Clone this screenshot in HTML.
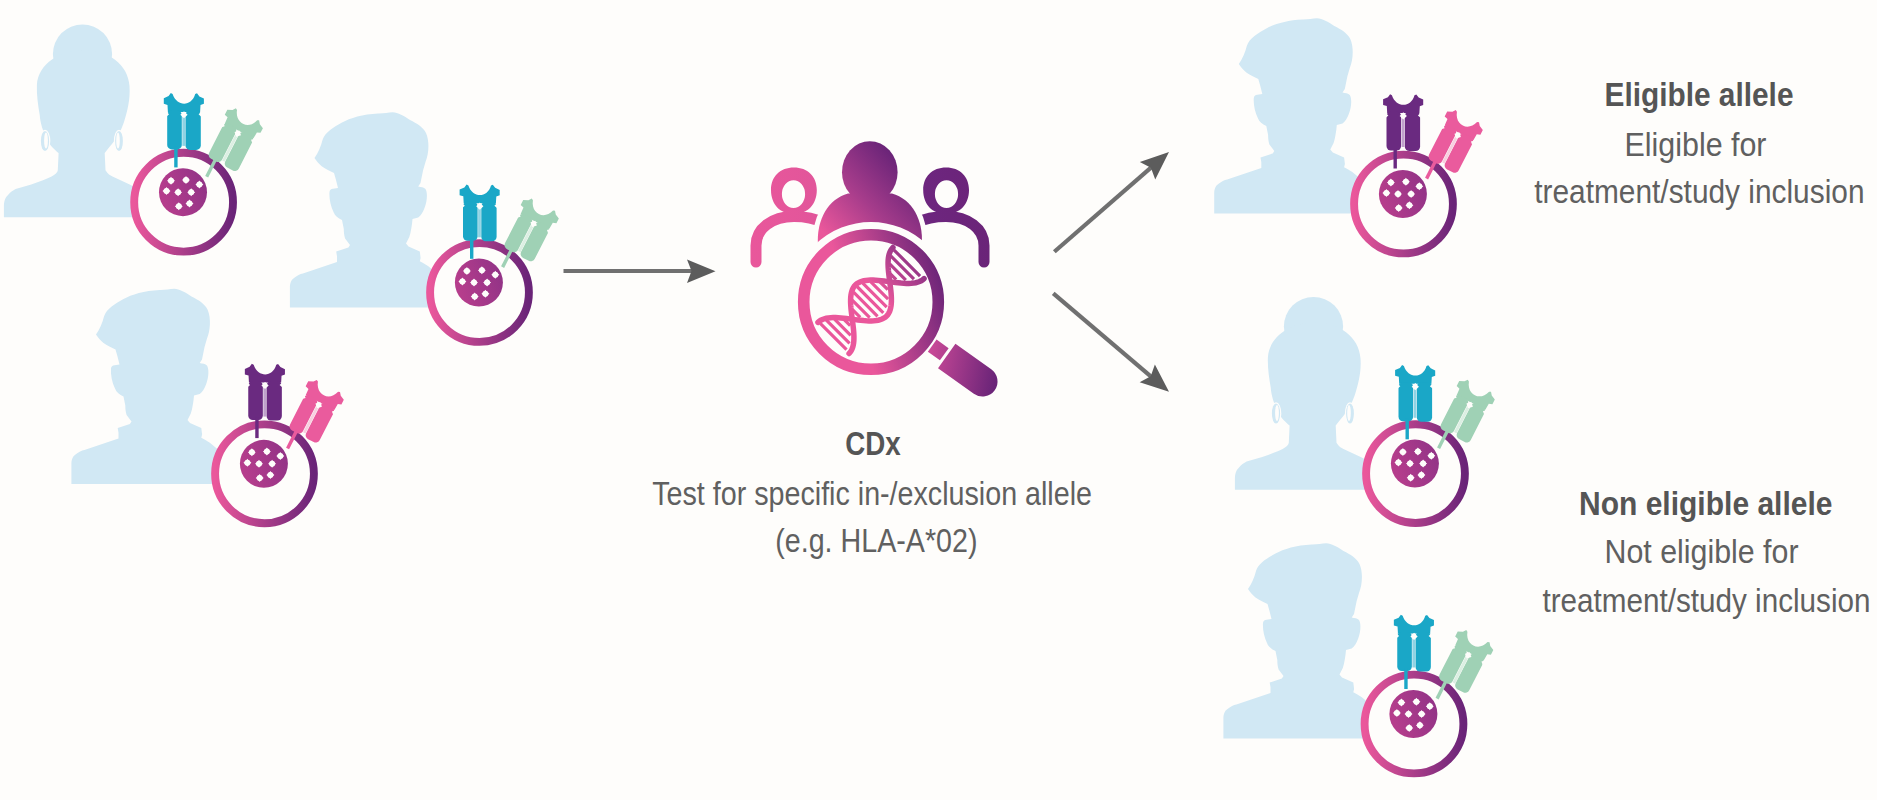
<!DOCTYPE html>
<html><head><meta charset="utf-8"><style>
html,body{margin:0;padding:0;background:#fefdfb;}
svg{display:block;}
</style></head><body>
<svg width="1877" height="800" viewBox="0 0 1877 800">
<defs>
<linearGradient id="ringg" x1="0" y1="0" x2="1" y2="0"><stop offset="0" stop-color="#ea579b"/><stop offset="1" stop-color="#6a2478"/></linearGradient>
<linearGradient id="nucg" x1="0" y1="0.3" x2="1" y2="0"><stop offset="0" stop-color="#b53d8c"/><stop offset="1" stop-color="#8e3286"/></linearGradient>
<linearGradient id="sgL" gradientUnits="userSpaceOnUse" x1="750" y1="0" x2="830" y2="0"><stop offset="0" stop-color="#e9579b"/><stop offset="1" stop-color="#e0559a"/></linearGradient>
<linearGradient id="sgR" gradientUnits="userSpaceOnUse" x1="750" y1="0" x2="830" y2="0"><stop offset="0" stop-color="#6a2478"/><stop offset="1" stop-color="#6e2680"/></linearGradient>
<linearGradient id="bodyg" gradientUnits="userSpaceOnUse" x1="828" y1="238" x2="905" y2="168"><stop offset="0" stop-color="#ea579b"/><stop offset="0.5" stop-color="#a63c8b"/><stop offset="1" stop-color="#6a2478"/></linearGradient>
<linearGradient id="headg" gradientUnits="userSpaceOnUse" x1="842" y1="185" x2="897" y2="160"><stop offset="0" stop-color="#a0398b"/><stop offset="1" stop-color="#6a2478"/></linearGradient>
<linearGradient id="magg" gradientUnits="userSpaceOnUse" x1="820" y1="310" x2="940" y2="270"><stop offset="0.25" stop-color="#ea579b"/><stop offset="1" stop-color="#6a2478"/></linearGradient>
<linearGradient id="handg" gradientUnits="userSpaceOnUse" x1="80" y1="18" x2="145" y2="-12"><stop offset="0" stop-color="#cc4a98"/><stop offset="1" stop-color="#6a2478"/></linearGradient>
<linearGradient id="dnag" gradientUnits="userSpaceOnUse" x1="860" y1="310" x2="925" y2="255"><stop offset="0.3" stop-color="#ea579b"/><stop offset="1" stop-color="#7a2a80"/></linearGradient>
</defs>
<rect width="1877" height="800" fill="#fefdfb"/>
<g transform="translate(0,0)" fill="#d1e8f4">
<circle cx="82.5" cy="54" r="29.6"/>
<path d="M83,50 C108,50 128,64 129.5,86 C130.5,100 127,112 124,122 C121,131 116,140 109.4,146.9 L104.7,153.1 L105.5,170.3 C108,174 110,175.5 112.5,176.6 L129.7,184.4 L150,195 L150,217.2 L3.9,217.2 L3.9,206.25 C4,200 6,197 7.8,195.3 C10,192 13,190.5 15.6,189 L31.25,184.4 C40,181.5 47,179 51.6,176.6 C55,174.5 57.8,172.5 57.8,170.3 L58.6,153.1 C55,150 50,146 46.9,139 C43,132 40,122 39.8,115.6 C38,105 36.5,95 36.9,85 C38,64 60,50 83,50 Z"/>
<ellipse cx="45" cy="141" rx="5.3" ry="11.2" fill="#fefdfb"/>
<ellipse cx="45" cy="141" rx="4.1" ry="10.1" fill="#d1e8f4"/>
<ellipse cx="46" cy="140.5" rx="1.9" ry="8" fill="#fefdfb"/>
<ellipse cx="119" cy="141" rx="5.1" ry="11.2" fill="#fefdfb"/>
<ellipse cx="119" cy="141" rx="3.9" ry="10.1" fill="#d1e8f4"/>
<ellipse cx="118" cy="140.5" rx="1.8" ry="8" fill="#fefdfb"/>
</g>
<circle cx="183.6" cy="202.2" r="50" fill="#fefdfb"/>
<circle cx="183.6" cy="202.2" r="49.4" fill="none" stroke="url(#ringg)" stroke-width="7.9"/>
<circle cx="183" cy="192.2" r="24" fill="url(#nucg)"/>
<g fill="#fefdfb"><circle cx="171" cy="180.7" r="3.0"/><path d="M171,176.7 Q172.3,179.4 175,180.7 Q172.3,182 171,184.7 Q169.7,182 167,180.7 Q169.7,179.4 171,176.7 Z"/><circle cx="186" cy="180" r="3.0"/><path d="M186,176 Q187.3,178.7 190,180 Q187.3,181.3 186,184 Q184.7,181.3 182,180 Q184.7,178.7 186,176 Z"/><circle cx="199.4" cy="184.4" r="3.0"/><path d="M199.4,180.4 Q200.7,183.1 203.4,184.4 Q200.7,185.7 199.4,188.4 Q198.1,185.7 195.4,184.4 Q198.1,183.1 199.4,180.4 Z"/><circle cx="166.5" cy="191.1" r="3.0"/><path d="M166.5,187.1 Q167.8,189.8 170.5,191.1 Q167.8,192.4 166.5,195.1 Q165.2,192.4 162.5,191.1 Q165.2,189.8 166.5,187.1 Z"/><circle cx="178.1" cy="192.2" r="3.0"/><path d="M178.1,188.2 Q179.4,190.9 182.1,192.2 Q179.4,193.5 178.1,196.2 Q176.8,193.5 174.1,192.2 Q176.8,190.9 178.1,188.2 Z"/><circle cx="191.2" cy="192.2" r="3.0"/><path d="M191.2,188.2 Q192.5,190.9 195.2,192.2 Q192.5,193.5 191.2,196.2 Q189.9,193.5 187.2,192.2 Q189.9,190.9 191.2,188.2 Z"/><circle cx="189.5" cy="203.5" r="3.0"/><path d="M189.5,199.5 Q190.8,202.2 193.5,203.5 Q190.8,204.8 189.5,207.5 Q188.2,204.8 185.5,203.5 Q188.2,202.2 189.5,199.5 Z"/><circle cx="178.8" cy="206.3" r="3.0"/><path d="M178.8,202.3 Q180.1,205 182.8,206.3 Q180.1,207.6 178.8,210.3 Q177.5,207.6 174.8,206.3 Q177.5,205 178.8,202.3 Z"/></g>
<g transform="translate(184.2,92.9)"><g>
<path fill="#1aa7c7" d="M-20.4,5.3 L-15.6,3.2 L-13.4,0.2 L-11.6,1.2 C-7.5,14 7.5,14 11,1.2 L12.8,0.4 L15.2,3.5 L19.7,5.6 L19.7,10.9 L16.3,12.2 L15.9,19 L-16.3,19 L-16.7,12 L-20.4,10.9 Z"/>
<rect fill="#1aa7c7" x="-17" y="17.5" width="14.6" height="39" rx="4.5"/>
<rect fill="#1aa7c7" x="1.3" y="17.5" width="15.3" height="39.5" rx="4.5"/>
<rect fill="#8fd3e4" x="-1.9" y="24" width="2.8" height="29"/>
<path fill="#fefdfb" d="M-0.2,18.3 L3.4,21.9 L-0.2,25.4 L-3.8,21.9 Z"/>
<path fill="#fefdfb" d="M-18,18.6 L-15.2,21.4 L-18,24 Z"/>
<path fill="#fefdfb" d="M17.3,18.6 L14.4,21.4 L17.3,24 Z"/>
<rect fill="#1aa7c7" x="-10" y="54" width="3.4" height="20.5"/>
</g></g>
<g transform="translate(247.9,114.2) rotate(27)"><g>
<path fill="#9fd1b5" d="M-20.4,5.3 L-15.6,3.2 L-13.4,0.2 L-11.6,1.2 C-7.5,14 7.5,14 11,1.2 L12.8,0.4 L15.2,3.5 L19.7,5.6 L19.7,10.9 L16.3,12.2 L15.9,19 L-16.3,19 L-16.7,12 L-20.4,10.9 Z"/>
<rect fill="#9fd1b5" x="-17" y="17.5" width="14.6" height="39" rx="4.5"/>
<rect fill="#9fd1b5" x="1.3" y="17.5" width="15.3" height="39.5" rx="4.5"/>
<rect fill="#dcefe3" x="-1.9" y="24" width="2.8" height="29"/>
<path fill="#fefdfb" d="M-0.2,18.3 L3.4,21.9 L-0.2,25.4 L-3.8,21.9 Z"/>
<path fill="#fefdfb" d="M-18,18.6 L-15.2,21.4 L-18,24 Z"/>
<path fill="#fefdfb" d="M17.3,18.6 L14.4,21.4 L17.3,24 Z"/>
<rect fill="#9fd1b5" x="-10" y="54" width="3.4" height="20.5"/>
</g></g>
<path fill="#d1e8f4" transform="translate(0,0)" d="M314.5,158 C318,153 321,146 322.5,140 C325,132 334,127 342,122.5 C350,118 363,114 378,113.4 C384,113.5 388,112.5 392.7,112.3 C398,112.5 404,116 410,120 C417,123.5 423,127 426,133 C430,142 428.5,155 425.5,162 L423.1,170.2 L420.5,183 L418.2,186.5 C421,187 424,187.5 425.5,188.9 C427.5,192 427.5,200 424.7,207.6 C423,212 421,216 418.2,217.4 L412.5,219 C412,225 411,232 409.3,236.9 L406,243.4 L408.5,246.6 L419.8,251.5 L420.6,258 L419.8,261.2 C423,263 426,264.5 428,266 L445,280 L445,307.5 L289.9,307.5 L289.9,287.2 C290,282 292,279 294.7,277.5 C297,275.5 300,274 302.9,273.4 L337,262 L337,256.3 L336.2,251.5 L348.4,247.4 L350,245 L345.1,238.5 C344,235 343.8,232 343.8,229 L342,220 C338,218 335,216 333.5,212 C330.5,206 329,198 329.5,192 C329.5,190 331,189 333,188.8 L338,188 L336,180 L334,173 C331,171.5 326,169.5 322,166.5 C319,164 316.5,161 314.5,158 Z"/>
<circle cx="479.5" cy="292.5" r="50" fill="#fefdfb"/>
<circle cx="479.5" cy="292.5" r="49.4" fill="none" stroke="url(#ringg)" stroke-width="7.9"/>
<circle cx="478.9" cy="282.5" r="24" fill="url(#nucg)"/>
<g fill="#fefdfb"><circle cx="466.9" cy="271" r="3.0"/><path d="M466.9,267 Q468.2,269.7 470.9,271 Q468.2,272.3 466.9,275 Q465.6,272.3 462.9,271 Q465.6,269.7 466.9,267 Z"/><circle cx="481.9" cy="270.3" r="3.0"/><path d="M481.9,266.3 Q483.2,269 485.9,270.3 Q483.2,271.6 481.9,274.3 Q480.6,271.6 477.9,270.3 Q480.6,269 481.9,266.3 Z"/><circle cx="495.3" cy="274.7" r="3.0"/><path d="M495.3,270.7 Q496.6,273.4 499.3,274.7 Q496.6,276 495.3,278.7 Q494,276 491.3,274.7 Q494,273.4 495.3,270.7 Z"/><circle cx="462.4" cy="281.4" r="3.0"/><path d="M462.4,277.4 Q463.7,280.1 466.4,281.4 Q463.7,282.7 462.4,285.4 Q461.1,282.7 458.4,281.4 Q461.1,280.1 462.4,277.4 Z"/><circle cx="474" cy="282.5" r="3.0"/><path d="M474,278.5 Q475.3,281.2 478,282.5 Q475.3,283.8 474,286.5 Q472.7,283.8 470,282.5 Q472.7,281.2 474,278.5 Z"/><circle cx="487.1" cy="282.5" r="3.0"/><path d="M487.1,278.5 Q488.4,281.2 491.1,282.5 Q488.4,283.8 487.1,286.5 Q485.8,283.8 483.1,282.5 Q485.8,281.2 487.1,278.5 Z"/><circle cx="485.4" cy="293.8" r="3.0"/><path d="M485.4,289.8 Q486.7,292.5 489.4,293.8 Q486.7,295.1 485.4,297.8 Q484.1,295.1 481.4,293.8 Q484.1,292.5 485.4,289.8 Z"/><circle cx="474.7" cy="296.6" r="3.0"/><path d="M474.7,292.6 Q476,295.3 478.7,296.6 Q476,297.9 474.7,300.6 Q473.4,297.9 470.7,296.6 Q473.4,295.3 474.7,292.6 Z"/></g>
<g transform="translate(480,184.3)"><g>
<path fill="#1aa7c7" d="M-20.4,5.3 L-15.6,3.2 L-13.4,0.2 L-11.6,1.2 C-7.5,14 7.5,14 11,1.2 L12.8,0.4 L15.2,3.5 L19.7,5.6 L19.7,10.9 L16.3,12.2 L15.9,19 L-16.3,19 L-16.7,12 L-20.4,10.9 Z"/>
<rect fill="#1aa7c7" x="-17" y="17.5" width="14.6" height="39" rx="4.5"/>
<rect fill="#1aa7c7" x="1.3" y="17.5" width="15.3" height="39.5" rx="4.5"/>
<rect fill="#8fd3e4" x="-1.9" y="24" width="2.8" height="29"/>
<path fill="#fefdfb" d="M-0.2,18.3 L3.4,21.9 L-0.2,25.4 L-3.8,21.9 Z"/>
<path fill="#fefdfb" d="M-18,18.6 L-15.2,21.4 L-18,24 Z"/>
<path fill="#fefdfb" d="M17.3,18.6 L14.4,21.4 L17.3,24 Z"/>
<rect fill="#1aa7c7" x="-10" y="54" width="3.4" height="20.5"/>
</g></g>
<g transform="translate(543.8,204.5) rotate(27)"><g>
<path fill="#9fd1b5" d="M-20.4,5.3 L-15.6,3.2 L-13.4,0.2 L-11.6,1.2 C-7.5,14 7.5,14 11,1.2 L12.8,0.4 L15.2,3.5 L19.7,5.6 L19.7,10.9 L16.3,12.2 L15.9,19 L-16.3,19 L-16.7,12 L-20.4,10.9 Z"/>
<rect fill="#9fd1b5" x="-17" y="17.5" width="14.6" height="39" rx="4.5"/>
<rect fill="#9fd1b5" x="1.3" y="17.5" width="15.3" height="39.5" rx="4.5"/>
<rect fill="#dcefe3" x="-1.9" y="24" width="2.8" height="29"/>
<path fill="#fefdfb" d="M-0.2,18.3 L3.4,21.9 L-0.2,25.4 L-3.8,21.9 Z"/>
<path fill="#fefdfb" d="M-18,18.6 L-15.2,21.4 L-18,24 Z"/>
<path fill="#fefdfb" d="M17.3,18.6 L14.4,21.4 L17.3,24 Z"/>
<rect fill="#9fd1b5" x="-10" y="54" width="3.4" height="20.5"/>
</g></g>
<path fill="#d1e8f4" transform="translate(-218.5,176.5)" d="M314.5,158 C318,153 321,146 322.5,140 C325,132 334,127 342,122.5 C350,118 363,114 378,113.4 C384,113.5 388,112.5 392.7,112.3 C398,112.5 404,116 410,120 C417,123.5 423,127 426,133 C430,142 428.5,155 425.5,162 L423.1,170.2 L420.5,183 L418.2,186.5 C421,187 424,187.5 425.5,188.9 C427.5,192 427.5,200 424.7,207.6 C423,212 421,216 418.2,217.4 L412.5,219 C412,225 411,232 409.3,236.9 L406,243.4 L408.5,246.6 L419.8,251.5 L420.6,258 L419.8,261.2 C423,263 426,264.5 428,266 L445,280 L445,307.5 L289.9,307.5 L289.9,287.2 C290,282 292,279 294.7,277.5 C297,275.5 300,274 302.9,273.4 L337,262 L337,256.3 L336.2,251.5 L348.4,247.4 L350,245 L345.1,238.5 C344,235 343.8,232 343.8,229 L342,220 C338,218 335,216 333.5,212 C330.5,206 329,198 329.5,192 C329.5,190 331,189 333,188.8 L338,188 L336,180 L334,173 C331,171.5 326,169.5 322,166.5 C319,164 316.5,161 314.5,158 Z"/>
<circle cx="264.5" cy="473.8" r="50" fill="#fefdfb"/>
<circle cx="264.5" cy="473.8" r="49.4" fill="none" stroke="url(#ringg)" stroke-width="7.9"/>
<circle cx="263.9" cy="463.8" r="24" fill="url(#nucg)"/>
<g fill="#fefdfb"><circle cx="251.9" cy="452.3" r="3.0"/><path d="M251.9,448.3 Q253.2,451 255.9,452.3 Q253.2,453.6 251.9,456.3 Q250.6,453.6 247.9,452.3 Q250.6,451 251.9,448.3 Z"/><circle cx="266.9" cy="451.6" r="3.0"/><path d="M266.9,447.6 Q268.2,450.3 270.9,451.6 Q268.2,452.9 266.9,455.6 Q265.6,452.9 262.9,451.6 Q265.6,450.3 266.9,447.6 Z"/><circle cx="280.3" cy="456" r="3.0"/><path d="M280.3,452 Q281.6,454.7 284.3,456 Q281.6,457.3 280.3,460 Q279,457.3 276.3,456 Q279,454.7 280.3,452 Z"/><circle cx="247.4" cy="462.7" r="3.0"/><path d="M247.4,458.7 Q248.7,461.4 251.4,462.7 Q248.7,464 247.4,466.7 Q246.1,464 243.4,462.7 Q246.1,461.4 247.4,458.7 Z"/><circle cx="259" cy="463.8" r="3.0"/><path d="M259,459.8 Q260.3,462.5 263,463.8 Q260.3,465.1 259,467.8 Q257.7,465.1 255,463.8 Q257.7,462.5 259,459.8 Z"/><circle cx="272.1" cy="463.8" r="3.0"/><path d="M272.1,459.8 Q273.4,462.5 276.1,463.8 Q273.4,465.1 272.1,467.8 Q270.8,465.1 268.1,463.8 Q270.8,462.5 272.1,459.8 Z"/><circle cx="270.4" cy="475.1" r="3.0"/><path d="M270.4,471.1 Q271.7,473.8 274.4,475.1 Q271.7,476.4 270.4,479.1 Q269.1,476.4 266.4,475.1 Q269.1,473.8 270.4,471.1 Z"/><circle cx="259.7" cy="477.9" r="3.0"/><path d="M259.7,473.9 Q261,476.6 263.7,477.9 Q261,479.2 259.7,481.9 Q258.4,479.2 255.7,477.9 Q258.4,476.6 259.7,473.9 Z"/></g>
<g transform="translate(265.25,363.6)"><g>
<path fill="#6a2a80" d="M-20.4,5.3 L-15.6,3.2 L-13.4,0.2 L-11.6,1.2 C-7.5,14 7.5,14 11,1.2 L12.8,0.4 L15.2,3.5 L19.7,5.6 L19.7,10.9 L16.3,12.2 L15.9,19 L-16.3,19 L-16.7,12 L-20.4,10.9 Z"/>
<rect fill="#6a2a80" x="-17" y="17.5" width="14.6" height="39" rx="4.5"/>
<rect fill="#6a2a80" x="1.3" y="17.5" width="15.3" height="39.5" rx="4.5"/>
<rect fill="#c0a2cc" x="-1.9" y="24" width="2.8" height="29"/>
<path fill="#fefdfb" d="M-0.2,18.3 L3.4,21.9 L-0.2,25.4 L-3.8,21.9 Z"/>
<path fill="#fefdfb" d="M-18,18.6 L-15.2,21.4 L-18,24 Z"/>
<path fill="#fefdfb" d="M17.3,18.6 L14.4,21.4 L17.3,24 Z"/>
<rect fill="#6a2a80" x="-10" y="54" width="3.4" height="20.5"/>
</g></g>
<g transform="translate(328.8,385.8) rotate(27)"><g>
<path fill="#ea5b9d" d="M-20.4,5.3 L-15.6,3.2 L-13.4,0.2 L-11.6,1.2 C-7.5,14 7.5,14 11,1.2 L12.8,0.4 L15.2,3.5 L19.7,5.6 L19.7,10.9 L16.3,12.2 L15.9,19 L-16.3,19 L-16.7,12 L-20.4,10.9 Z"/>
<rect fill="#ea5b9d" x="-17" y="17.5" width="14.6" height="39" rx="4.5"/>
<rect fill="#ea5b9d" x="1.3" y="17.5" width="15.3" height="39.5" rx="4.5"/>
<rect fill="#f8cfe0" x="-1.9" y="24" width="2.8" height="29"/>
<path fill="#fefdfb" d="M-0.2,18.3 L3.4,21.9 L-0.2,25.4 L-3.8,21.9 Z"/>
<path fill="#fefdfb" d="M-18,18.6 L-15.2,21.4 L-18,24 Z"/>
<path fill="#fefdfb" d="M17.3,18.6 L14.4,21.4 L17.3,24 Z"/>
<rect fill="#ea5b9d" x="-10" y="54" width="3.4" height="20.5"/>
</g></g>
<path fill="#d1e8f4" transform="translate(924.3,-94)" d="M314.5,158 C318,153 321,146 322.5,140 C325,132 334,127 342,122.5 C350,118 363,114 378,113.4 C384,113.5 388,112.5 392.7,112.3 C398,112.5 404,116 410,120 C417,123.5 423,127 426,133 C430,142 428.5,155 425.5,162 L423.1,170.2 L420.5,183 L418.2,186.5 C421,187 424,187.5 425.5,188.9 C427.5,192 427.5,200 424.7,207.6 C423,212 421,216 418.2,217.4 L412.5,219 C412,225 411,232 409.3,236.9 L406,243.4 L408.5,246.6 L419.8,251.5 L420.6,258 L419.8,261.2 C423,263 426,264.5 428,266 L445,280 L445,307.5 L289.9,307.5 L289.9,287.2 C290,282 292,279 294.7,277.5 C297,275.5 300,274 302.9,273.4 L337,262 L337,256.3 L336.2,251.5 L348.4,247.4 L350,245 L345.1,238.5 C344,235 343.8,232 343.8,229 L342,220 C338,218 335,216 333.5,212 C330.5,206 329,198 329.5,192 C329.5,190 331,189 333,188.8 L338,188 L336,180 L334,173 C331,171.5 326,169.5 322,166.5 C319,164 316.5,161 314.5,158 Z"/>
<circle cx="1403.5" cy="204" r="50" fill="#fefdfb"/>
<circle cx="1403.5" cy="204" r="49.4" fill="none" stroke="url(#ringg)" stroke-width="7.9"/>
<circle cx="1402.9" cy="194" r="24" fill="url(#nucg)"/>
<g fill="#fefdfb"><circle cx="1390.9" cy="182.5" r="3.0"/><path d="M1390.9,178.5 Q1392.2,181.2 1394.9,182.5 Q1392.2,183.8 1390.9,186.5 Q1389.6,183.8 1386.9,182.5 Q1389.6,181.2 1390.9,178.5 Z"/><circle cx="1405.9" cy="181.8" r="3.0"/><path d="M1405.9,177.8 Q1407.2,180.5 1409.9,181.8 Q1407.2,183.1 1405.9,185.8 Q1404.6,183.1 1401.9,181.8 Q1404.6,180.5 1405.9,177.8 Z"/><circle cx="1419.3" cy="186.2" r="3.0"/><path d="M1419.3,182.2 Q1420.6,184.9 1423.3,186.2 Q1420.6,187.5 1419.3,190.2 Q1418,187.5 1415.3,186.2 Q1418,184.9 1419.3,182.2 Z"/><circle cx="1386.4" cy="192.9" r="3.0"/><path d="M1386.4,188.9 Q1387.7,191.6 1390.4,192.9 Q1387.7,194.2 1386.4,196.9 Q1385.1,194.2 1382.4,192.9 Q1385.1,191.6 1386.4,188.9 Z"/><circle cx="1398" cy="194" r="3.0"/><path d="M1398,190 Q1399.3,192.7 1402,194 Q1399.3,195.3 1398,198 Q1396.7,195.3 1394,194 Q1396.7,192.7 1398,190 Z"/><circle cx="1411.1" cy="194" r="3.0"/><path d="M1411.1,190 Q1412.4,192.7 1415.1,194 Q1412.4,195.3 1411.1,198 Q1409.8,195.3 1407.1,194 Q1409.8,192.7 1411.1,190 Z"/><circle cx="1409.4" cy="205.3" r="3.0"/><path d="M1409.4,201.3 Q1410.7,204 1413.4,205.3 Q1410.7,206.6 1409.4,209.3 Q1408.1,206.6 1405.4,205.3 Q1408.1,204 1409.4,201.3 Z"/><circle cx="1398.7" cy="208.1" r="3.0"/><path d="M1398.7,204.1 Q1400,206.8 1402.7,208.1 Q1400,209.4 1398.7,212.1 Q1397.4,209.4 1394.7,208.1 Q1397.4,206.8 1398.7,204.1 Z"/></g>
<g transform="translate(1403.5,94)"><g>
<path fill="#6a2a80" d="M-20.4,5.3 L-15.6,3.2 L-13.4,0.2 L-11.6,1.2 C-7.5,14 7.5,14 11,1.2 L12.8,0.4 L15.2,3.5 L19.7,5.6 L19.7,10.9 L16.3,12.2 L15.9,19 L-16.3,19 L-16.7,12 L-20.4,10.9 Z"/>
<rect fill="#6a2a80" x="-17" y="17.5" width="14.6" height="39" rx="4.5"/>
<rect fill="#6a2a80" x="1.3" y="17.5" width="15.3" height="39.5" rx="4.5"/>
<rect fill="#c0a2cc" x="-1.9" y="24" width="2.8" height="29"/>
<path fill="#fefdfb" d="M-0.2,18.3 L3.4,21.9 L-0.2,25.4 L-3.8,21.9 Z"/>
<path fill="#fefdfb" d="M-18,18.6 L-15.2,21.4 L-18,24 Z"/>
<path fill="#fefdfb" d="M17.3,18.6 L14.4,21.4 L17.3,24 Z"/>
<rect fill="#6a2a80" x="-10" y="54" width="3.4" height="20.5"/>
</g></g>
<g transform="translate(1467.8,116) rotate(27)"><g>
<path fill="#ea5b9d" d="M-20.4,5.3 L-15.6,3.2 L-13.4,0.2 L-11.6,1.2 C-7.5,14 7.5,14 11,1.2 L12.8,0.4 L15.2,3.5 L19.7,5.6 L19.7,10.9 L16.3,12.2 L15.9,19 L-16.3,19 L-16.7,12 L-20.4,10.9 Z"/>
<rect fill="#ea5b9d" x="-17" y="17.5" width="14.6" height="39" rx="4.5"/>
<rect fill="#ea5b9d" x="1.3" y="17.5" width="15.3" height="39.5" rx="4.5"/>
<rect fill="#f8cfe0" x="-1.9" y="24" width="2.8" height="29"/>
<path fill="#fefdfb" d="M-0.2,18.3 L3.4,21.9 L-0.2,25.4 L-3.8,21.9 Z"/>
<path fill="#fefdfb" d="M-18,18.6 L-15.2,21.4 L-18,24 Z"/>
<path fill="#fefdfb" d="M17.3,18.6 L14.4,21.4 L17.3,24 Z"/>
<rect fill="#ea5b9d" x="-10" y="54" width="3.4" height="20.5"/>
</g></g>
<g transform="translate(1231,272.5)" fill="#d1e8f4">
<circle cx="82.5" cy="54" r="29.6"/>
<path d="M83,50 C108,50 128,64 129.5,86 C130.5,100 127,112 124,122 C121,131 116,140 109.4,146.9 L104.7,153.1 L105.5,170.3 C108,174 110,175.5 112.5,176.6 L129.7,184.4 L150,195 L150,217.2 L3.9,217.2 L3.9,206.25 C4,200 6,197 7.8,195.3 C10,192 13,190.5 15.6,189 L31.25,184.4 C40,181.5 47,179 51.6,176.6 C55,174.5 57.8,172.5 57.8,170.3 L58.6,153.1 C55,150 50,146 46.9,139 C43,132 40,122 39.8,115.6 C38,105 36.5,95 36.9,85 C38,64 60,50 83,50 Z"/>
<ellipse cx="45" cy="141" rx="5.3" ry="11.2" fill="#fefdfb"/>
<ellipse cx="45" cy="141" rx="4.1" ry="10.1" fill="#d1e8f4"/>
<ellipse cx="46" cy="140.5" rx="1.9" ry="8" fill="#fefdfb"/>
<ellipse cx="119" cy="141" rx="5.1" ry="11.2" fill="#fefdfb"/>
<ellipse cx="119" cy="141" rx="3.9" ry="10.1" fill="#d1e8f4"/>
<ellipse cx="118" cy="140.5" rx="1.8" ry="8" fill="#fefdfb"/>
</g>
<circle cx="1415.5" cy="473.6" r="50" fill="#fefdfb"/>
<circle cx="1415.5" cy="473.6" r="49.4" fill="none" stroke="url(#ringg)" stroke-width="7.9"/>
<circle cx="1414.9" cy="463.6" r="24" fill="url(#nucg)"/>
<g fill="#fefdfb"><circle cx="1402.9" cy="452.1" r="3.0"/><path d="M1402.9,448.1 Q1404.2,450.8 1406.9,452.1 Q1404.2,453.4 1402.9,456.1 Q1401.6,453.4 1398.9,452.1 Q1401.6,450.8 1402.9,448.1 Z"/><circle cx="1417.9" cy="451.4" r="3.0"/><path d="M1417.9,447.4 Q1419.2,450.1 1421.9,451.4 Q1419.2,452.7 1417.9,455.4 Q1416.6,452.7 1413.9,451.4 Q1416.6,450.1 1417.9,447.4 Z"/><circle cx="1431.3" cy="455.8" r="3.0"/><path d="M1431.3,451.8 Q1432.6,454.5 1435.3,455.8 Q1432.6,457.1 1431.3,459.8 Q1430,457.1 1427.3,455.8 Q1430,454.5 1431.3,451.8 Z"/><circle cx="1398.4" cy="462.5" r="3.0"/><path d="M1398.4,458.5 Q1399.7,461.2 1402.4,462.5 Q1399.7,463.8 1398.4,466.5 Q1397.1,463.8 1394.4,462.5 Q1397.1,461.2 1398.4,458.5 Z"/><circle cx="1410" cy="463.6" r="3.0"/><path d="M1410,459.6 Q1411.3,462.3 1414,463.6 Q1411.3,464.9 1410,467.6 Q1408.7,464.9 1406,463.6 Q1408.7,462.3 1410,459.6 Z"/><circle cx="1423.1" cy="463.6" r="3.0"/><path d="M1423.1,459.6 Q1424.4,462.3 1427.1,463.6 Q1424.4,464.9 1423.1,467.6 Q1421.8,464.9 1419.1,463.6 Q1421.8,462.3 1423.1,459.6 Z"/><circle cx="1421.4" cy="474.9" r="3.0"/><path d="M1421.4,470.9 Q1422.7,473.6 1425.4,474.9 Q1422.7,476.2 1421.4,478.9 Q1420.1,476.2 1417.4,474.9 Q1420.1,473.6 1421.4,470.9 Z"/><circle cx="1410.7" cy="477.7" r="3.0"/><path d="M1410.7,473.7 Q1412,476.4 1414.7,477.7 Q1412,479 1410.7,481.7 Q1409.4,479 1406.7,477.7 Q1409.4,476.4 1410.7,473.7 Z"/></g>
<g transform="translate(1415.5,364.8)"><g>
<path fill="#1aa7c7" d="M-20.4,5.3 L-15.6,3.2 L-13.4,0.2 L-11.6,1.2 C-7.5,14 7.5,14 11,1.2 L12.8,0.4 L15.2,3.5 L19.7,5.6 L19.7,10.9 L16.3,12.2 L15.9,19 L-16.3,19 L-16.7,12 L-20.4,10.9 Z"/>
<rect fill="#1aa7c7" x="-17" y="17.5" width="14.6" height="39" rx="4.5"/>
<rect fill="#1aa7c7" x="1.3" y="17.5" width="15.3" height="39.5" rx="4.5"/>
<rect fill="#8fd3e4" x="-1.9" y="24" width="2.8" height="29"/>
<path fill="#fefdfb" d="M-0.2,18.3 L3.4,21.9 L-0.2,25.4 L-3.8,21.9 Z"/>
<path fill="#fefdfb" d="M-18,18.6 L-15.2,21.4 L-18,24 Z"/>
<path fill="#fefdfb" d="M17.3,18.6 L14.4,21.4 L17.3,24 Z"/>
<rect fill="#1aa7c7" x="-10" y="54" width="3.4" height="20.5"/>
</g></g>
<g transform="translate(1479.8,385.6) rotate(27)"><g>
<path fill="#9fd1b5" d="M-20.4,5.3 L-15.6,3.2 L-13.4,0.2 L-11.6,1.2 C-7.5,14 7.5,14 11,1.2 L12.8,0.4 L15.2,3.5 L19.7,5.6 L19.7,10.9 L16.3,12.2 L15.9,19 L-16.3,19 L-16.7,12 L-20.4,10.9 Z"/>
<rect fill="#9fd1b5" x="-17" y="17.5" width="14.6" height="39" rx="4.5"/>
<rect fill="#9fd1b5" x="1.3" y="17.5" width="15.3" height="39.5" rx="4.5"/>
<rect fill="#dcefe3" x="-1.9" y="24" width="2.8" height="29"/>
<path fill="#fefdfb" d="M-0.2,18.3 L3.4,21.9 L-0.2,25.4 L-3.8,21.9 Z"/>
<path fill="#fefdfb" d="M-18,18.6 L-15.2,21.4 L-18,24 Z"/>
<path fill="#fefdfb" d="M17.3,18.6 L14.4,21.4 L17.3,24 Z"/>
<rect fill="#9fd1b5" x="-10" y="54" width="3.4" height="20.5"/>
</g></g>
<path fill="#d1e8f4" transform="translate(933.5,431)" d="M314.5,158 C318,153 321,146 322.5,140 C325,132 334,127 342,122.5 C350,118 363,114 378,113.4 C384,113.5 388,112.5 392.7,112.3 C398,112.5 404,116 410,120 C417,123.5 423,127 426,133 C430,142 428.5,155 425.5,162 L423.1,170.2 L420.5,183 L418.2,186.5 C421,187 424,187.5 425.5,188.9 C427.5,192 427.5,200 424.7,207.6 C423,212 421,216 418.2,217.4 L412.5,219 C412,225 411,232 409.3,236.9 L406,243.4 L408.5,246.6 L419.8,251.5 L420.6,258 L419.8,261.2 C423,263 426,264.5 428,266 L445,280 L445,307.5 L289.9,307.5 L289.9,287.2 C290,282 292,279 294.7,277.5 C297,275.5 300,274 302.9,273.4 L337,262 L337,256.3 L336.2,251.5 L348.4,247.4 L350,245 L345.1,238.5 C344,235 343.8,232 343.8,229 L342,220 C338,218 335,216 333.5,212 C330.5,206 329,198 329.5,192 C329.5,190 331,189 333,188.8 L338,188 L336,180 L334,173 C331,171.5 326,169.5 322,166.5 C319,164 316.5,161 314.5,158 Z"/>
<circle cx="1414" cy="724" r="50" fill="#fefdfb"/>
<circle cx="1414" cy="724" r="49.4" fill="none" stroke="url(#ringg)" stroke-width="7.9"/>
<circle cx="1413.4" cy="714" r="24" fill="url(#nucg)"/>
<g fill="#fefdfb"><circle cx="1401.4" cy="702.5" r="3.0"/><path d="M1401.4,698.5 Q1402.7,701.2 1405.4,702.5 Q1402.7,703.8 1401.4,706.5 Q1400.1,703.8 1397.4,702.5 Q1400.1,701.2 1401.4,698.5 Z"/><circle cx="1416.4" cy="701.8" r="3.0"/><path d="M1416.4,697.8 Q1417.7,700.5 1420.4,701.8 Q1417.7,703.1 1416.4,705.8 Q1415.1,703.1 1412.4,701.8 Q1415.1,700.5 1416.4,697.8 Z"/><circle cx="1429.8" cy="706.2" r="3.0"/><path d="M1429.8,702.2 Q1431.1,704.9 1433.8,706.2 Q1431.1,707.5 1429.8,710.2 Q1428.5,707.5 1425.8,706.2 Q1428.5,704.9 1429.8,702.2 Z"/><circle cx="1396.9" cy="712.9" r="3.0"/><path d="M1396.9,708.9 Q1398.2,711.6 1400.9,712.9 Q1398.2,714.2 1396.9,716.9 Q1395.6,714.2 1392.9,712.9 Q1395.6,711.6 1396.9,708.9 Z"/><circle cx="1408.5" cy="714" r="3.0"/><path d="M1408.5,710 Q1409.8,712.7 1412.5,714 Q1409.8,715.3 1408.5,718 Q1407.2,715.3 1404.5,714 Q1407.2,712.7 1408.5,710 Z"/><circle cx="1421.6" cy="714" r="3.0"/><path d="M1421.6,710 Q1422.9,712.7 1425.6,714 Q1422.9,715.3 1421.6,718 Q1420.3,715.3 1417.6,714 Q1420.3,712.7 1421.6,710 Z"/><circle cx="1419.9" cy="725.3" r="3.0"/><path d="M1419.9,721.3 Q1421.2,724 1423.9,725.3 Q1421.2,726.6 1419.9,729.3 Q1418.6,726.6 1415.9,725.3 Q1418.6,724 1419.9,721.3 Z"/><circle cx="1409.2" cy="728.1" r="3.0"/><path d="M1409.2,724.1 Q1410.5,726.8 1413.2,728.1 Q1410.5,729.4 1409.2,732.1 Q1407.9,729.4 1405.2,728.1 Q1407.9,726.8 1409.2,724.1 Z"/></g>
<g transform="translate(1414.25,614.5)"><g>
<path fill="#1aa7c7" d="M-20.4,5.3 L-15.6,3.2 L-13.4,0.2 L-11.6,1.2 C-7.5,14 7.5,14 11,1.2 L12.8,0.4 L15.2,3.5 L19.7,5.6 L19.7,10.9 L16.3,12.2 L15.9,19 L-16.3,19 L-16.7,12 L-20.4,10.9 Z"/>
<rect fill="#1aa7c7" x="-17" y="17.5" width="14.6" height="39" rx="4.5"/>
<rect fill="#1aa7c7" x="1.3" y="17.5" width="15.3" height="39.5" rx="4.5"/>
<rect fill="#8fd3e4" x="-1.9" y="24" width="2.8" height="29"/>
<path fill="#fefdfb" d="M-0.2,18.3 L3.4,21.9 L-0.2,25.4 L-3.8,21.9 Z"/>
<path fill="#fefdfb" d="M-18,18.6 L-15.2,21.4 L-18,24 Z"/>
<path fill="#fefdfb" d="M17.3,18.6 L14.4,21.4 L17.3,24 Z"/>
<rect fill="#1aa7c7" x="-10" y="54" width="3.4" height="20.5"/>
</g></g>
<g transform="translate(1478.3,636) rotate(27)"><g>
<path fill="#9fd1b5" d="M-20.4,5.3 L-15.6,3.2 L-13.4,0.2 L-11.6,1.2 C-7.5,14 7.5,14 11,1.2 L12.8,0.4 L15.2,3.5 L19.7,5.6 L19.7,10.9 L16.3,12.2 L15.9,19 L-16.3,19 L-16.7,12 L-20.4,10.9 Z"/>
<rect fill="#9fd1b5" x="-17" y="17.5" width="14.6" height="39" rx="4.5"/>
<rect fill="#9fd1b5" x="1.3" y="17.5" width="15.3" height="39.5" rx="4.5"/>
<rect fill="#dcefe3" x="-1.9" y="24" width="2.8" height="29"/>
<path fill="#fefdfb" d="M-0.2,18.3 L3.4,21.9 L-0.2,25.4 L-3.8,21.9 Z"/>
<path fill="#fefdfb" d="M-18,18.6 L-15.2,21.4 L-18,24 Z"/>
<path fill="#fefdfb" d="M17.3,18.6 L14.4,21.4 L17.3,24 Z"/>
<rect fill="#9fd1b5" x="-10" y="54" width="3.4" height="20.5"/>
</g></g>
<g>
<path fill="url(#sgL)" fill-rule="evenodd" d="M771,190 C771,176.5 780.16,167.5 793.9,167.5 C807.64,167.5 816.8,176.5 816.8,190 C816.8,204.4 807.64,214 793.9,214 C780.16,214 771,204.4 771,190 Z M781.9,194.1 A11.6,13.9 0 1 0 805.1,194.1 A11.6,13.9 0 1 0 781.9,194.1 Z"/>
<path fill="none" stroke="url(#sgL)" stroke-width="11" stroke-linecap="round" d="M756,262 L756,245.5 C756,228.5 772,216.5 794,216.5 C806,216.5 816,219 824,223"/>
</g>
<g transform="translate(1740,0) scale(-1,1)">
<path fill="url(#sgR)" fill-rule="evenodd" d="M771,190 C771,176.5 780.16,167.5 793.9,167.5 C807.64,167.5 816.8,176.5 816.8,190 C816.8,204.4 807.64,214 793.9,214 C780.16,214 771,204.4 771,190 Z M781.9,194.1 A11.6,13.9 0 1 0 805.1,194.1 A11.6,13.9 0 1 0 781.9,194.1 Z"/>
<path fill="none" stroke="url(#sgR)" stroke-width="11" stroke-linecap="round" d="M756,262 L756,245.5 C756,228.5 772,216.5 794,216.5 C806,216.5 816,219 824,223"/>
</g>
<path fill="#fefdfb" stroke="#fefdfb" stroke-width="10" d="M817.9,244 C816.5,220 828,199 848,193.5 L892,193.5 C912,199 923.5,220 921.8,244 Z"/>
<ellipse cx="869.8" cy="172.2" rx="27.8" ry="31" fill="url(#bodyg)"/>
<path fill="url(#bodyg)" d="M817.9,244 C816.5,220 828,199 848,193.5 L892,193.5 C912,199 923.5,220 921.8,244 Z"/>
<circle cx="871" cy="302" r="67.3" fill="#fefdfb" stroke="#fefdfb" stroke-width="25.6"/>
<circle cx="871" cy="302" r="67.3" fill="none" stroke="url(#magg)" stroke-width="11.6"/>
<g transform="translate(871,302) rotate(35.5)">
<rect x="75.2" y="-7.5" width="14.8" height="15" fill="url(#handg)"/>
<path d="M93,-15 L137,-15 A15,15 0 0 1 137,15 L93,15 Z" fill="url(#handg)"/>
</g>
<path d="M817.97,322.42 L819.3,321.26 L820.81,320.26 L822.48,319.43 L824.31,318.77 L826.3,318.26 L828.43,317.9 L830.71,317.67 L833.11,317.57 L835.62,317.59 L838.24,317.71 L840.94,317.91 L843.71,318.18 L846.53,318.5 L849.39,318.86 L852.26,319.24 L855.14,319.62 L857.99,319.97 L860.82,320.3 L863.59,320.57 L866.29,320.77 L868.9,320.89 L871.42,320.9 L873.82,320.8 L876.09,320.58 L878.23,320.22 L880.21,319.71 L882.05,319.04 L883.72,318.21 L885.22,317.22 L886.56,316.06 L887.72,314.72 L888.71,313.22 L889.54,311.55 L890.21,309.71 L890.72,307.73 L891.08,305.59 L891.3,303.32 L891.4,300.92 L891.39,298.4 L891.27,295.79 L891.07,293.09 L890.8,290.32 L890.47,287.49 L890.12,284.64 L889.74,281.76 L889.36,278.89 L889,276.03 L888.68,273.21 L888.41,270.44 L888.21,267.74 L888.09,265.12 L888.07,262.61 L888.17,260.21 L888.4,257.93 L888.76,255.8 L889.27,253.81 L889.93,251.98 L890.76,250.31 L891.76,248.8 L892.92,247.47" fill="none" stroke="url(#dnag)" stroke-width="5.5" stroke-linecap="round"/>
<path d="M849.08,353.53 L850.24,352.2 L851.24,350.69 L852.07,349.02 L852.73,347.19 L853.24,345.2 L853.6,343.07 L853.83,340.79 L853.93,338.39 L853.91,335.88 L853.79,333.26 L853.59,330.56 L853.32,327.79 L853,324.97 L852.64,322.11 L852.26,319.24 L851.88,316.36 L851.53,313.51 L851.2,310.68 L850.93,307.91 L850.73,305.21 L850.61,302.6 L850.6,300.08 L850.7,297.68 L850.92,295.41 L851.28,293.27 L851.79,291.29 L852.46,289.45 L853.29,287.78 L854.28,286.28 L855.44,284.94 L856.78,283.78 L858.28,282.79 L859.95,281.96 L861.79,281.29 L863.77,280.78 L865.91,280.42 L868.18,280.2 L870.58,280.1 L873.1,280.11 L875.71,280.23 L878.41,280.43 L881.18,280.7 L884.01,281.03 L886.86,281.38 L889.74,281.76 L892.61,282.14 L895.47,282.5 L898.29,282.82 L901.06,283.09 L903.76,283.29 L906.38,283.41 L908.89,283.43 L911.29,283.33 L913.57,283.1 L915.7,282.74 L917.69,282.23 L919.52,281.57 L921.19,280.74 L922.7,279.74 L924.03,278.58" fill="none" stroke="url(#dnag)" stroke-width="5.5" stroke-linecap="round"/>
<path d="M820.26,323.3 L846.51,349.55 M826.34,320.18 L849.62,343.46 M834.48,319.13 L850.67,335.32 M844.16,319.62 L850.18,325.64 M852.5,309.57 L860.23,317.31 M852.2,300.09 L869.72,317.6 M853.54,292.24 L877.57,316.26 M857,286.5 L883.3,312.8 M862.74,283.04 L886.76,307.07 M870.59,281.7 L888.1,299.22 M880.07,282 L887.81,289.73 M890.12,273.66 L896.14,279.68 M889.63,263.98 L905.82,280.17 M890.68,255.84 L913.96,279.12 M893.8,249.76 L920.05,276.01" stroke="url(#dnag)" stroke-width="3.2"/>

<line x1="563.5" y1="271" x2="692" y2="271" stroke="#707070" stroke-width="4.2"/>
<path fill="#5c5c5c" d="M715.5,271.2 L687,259.5 L691.5,271 L687,283 Z"/>
<g transform="translate(1169,152) rotate(-41.03)">
<line x1="-152" y1="0" x2="-22" y2="0" stroke="#707070" stroke-width="4.2"/>
<path fill="#5c5c5c" d="M0,0 L-28.5,-11.7 L-24,0 L-28.5,11.8 Z"/>
</g>
<g transform="translate(1169,391.8) rotate(40.4)">
<line x1="-152" y1="0" x2="-22" y2="0" stroke="#707070" stroke-width="4.2"/>
<path fill="#5c5c5c" d="M0,0 L-28.5,-11.7 L-24,0 L-28.5,11.8 Z"/>
</g>

<text x="845.25" y="455" font-family="Liberation Sans, sans-serif" font-size="33" font-weight="bold" fill="#555555" textLength="55.5" lengthAdjust="spacingAndGlyphs">CDx</text>
<text x="652.25" y="504.6" font-family="Liberation Sans, sans-serif" font-size="33" font-weight="normal" fill="#606060" textLength="439.75" lengthAdjust="spacingAndGlyphs">Test for specific in-/exclusion allele</text>
<text x="775.25" y="552" font-family="Liberation Sans, sans-serif" font-size="33" font-weight="normal" fill="#606060" textLength="202.25" lengthAdjust="spacingAndGlyphs">(e.g. HLA-A*02)</text>
<text x="1604.5" y="106.25" font-family="Liberation Sans, sans-serif" font-size="33" font-weight="bold" fill="#555555" textLength="189" lengthAdjust="spacingAndGlyphs">Eligible allele</text>
<text x="1624.5" y="156" font-family="Liberation Sans, sans-serif" font-size="33" font-weight="normal" fill="#606060" textLength="142" lengthAdjust="spacingAndGlyphs">Eligible for</text>
<text x="1534.25" y="202.6" font-family="Liberation Sans, sans-serif" font-size="33" font-weight="normal" fill="#606060" textLength="330.25" lengthAdjust="spacingAndGlyphs">treatment/study inclusion</text>
<text x="1579" y="515.3" font-family="Liberation Sans, sans-serif" font-size="33" font-weight="bold" fill="#555555" textLength="253.5" lengthAdjust="spacingAndGlyphs">Non eligible allele</text>
<text x="1604.5" y="562.5" font-family="Liberation Sans, sans-serif" font-size="33" font-weight="normal" fill="#606060" textLength="194" lengthAdjust="spacingAndGlyphs">Not eligible for</text>
<text x="1542.5" y="612.3" font-family="Liberation Sans, sans-serif" font-size="33" font-weight="normal" fill="#606060" textLength="328" lengthAdjust="spacingAndGlyphs">treatment/study inclusion</text>
</svg>
</body></html>
